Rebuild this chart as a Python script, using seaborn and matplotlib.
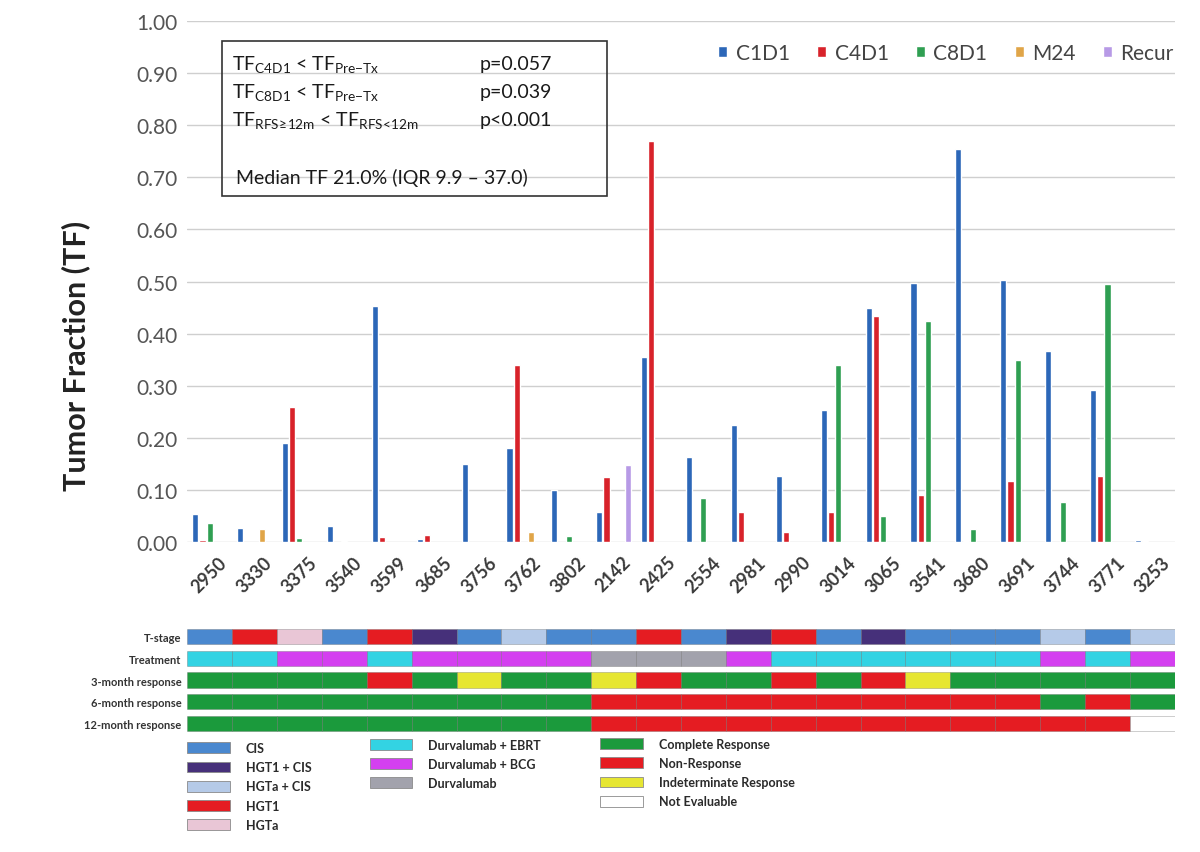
import numpy as np
import pandas as pd
import matplotlib
matplotlib.use("Agg")
import matplotlib.pyplot as plt
from matplotlib.patches import Patch, Rectangle
from matplotlib.ticker import FormatStrFormatter
import seaborn as sns

nan = np.nan

# --- data ---
PATIENTS = ["2950", "3330", "3375", "3540", "3599", "3685", "3756", "3762", "3802", "2142", "2425",
            "2554", "2981", "2990", "3014", "3065", "3541", "3680", "3691", "3744", "3771", "3253"]
C1D1 = [0.053, 0.026, 0.190, 0.030, 0.453, 0.005, 0.150, 0.180, 0.100, 0.057, 0.356,
        0.163, 0.225, 0.126, 0.253, 0.450, 0.498, 0.755, 0.503, 0.366, 0.292, 0.003]
C4D1 = [0.003, nan, 0.260, nan, 0.010, 0.014, nan, 0.340, nan, 0.125, 0.770,
        nan, 0.058, 0.020, 0.058, 0.434, 0.090, 0.002, 0.117, nan, 0.126, 0.002]
C8D1 = [0.036, nan, 0.008, 0.002, nan, nan, nan, nan, 0.012, nan, nan,
        0.084, nan, nan, 0.340, 0.049, 0.424, 0.025, 0.350, 0.076, 0.496, nan]
M24 = [nan, 0.025, nan, nan, nan, nan, nan, 0.020, nan, nan, nan,
       nan, nan, nan, nan, nan, nan, nan, nan, nan, nan, nan]
RECUR = [nan, nan, nan, nan, nan, nan, nan, nan, nan, 0.148, nan,
         nan, nan, nan, nan, nan, nan, nan, nan, nan, nan, nan]
SERIES = ["C1D1", "C4D1", "C8D1", "M24", "Recur"]
SERIES_COLORS = ["#2c67b8", "#d8222a", "#2f9f52", "#e0a548", "#b79ae6"]

ROW_NAMES = ["T-stage", "Treatment", "3-month response", "6-month response", "12-month response"]
T_STAGE = ["CIS", "HGT1", "HGTa", "CIS", "HGT1", "HGT1 + CIS", "CIS", "HGTa + CIS", "CIS", "CIS", "HGT1",
           "CIS", "HGT1 + CIS", "HGT1", "CIS", "HGT1 + CIS", "CIS", "CIS", "CIS", "HGTa + CIS", "CIS", "HGTa + CIS"]
TREATMENT = ["EBRT", "EBRT", "BCG", "BCG", "EBRT", "BCG", "BCG", "BCG", "BCG", "D", "D",
             "D", "BCG", "EBRT", "EBRT", "EBRT", "EBRT", "EBRT", "EBRT", "BCG", "EBRT", "BCG"]
RESP_3M = ["CR", "CR", "CR", "CR", "NR", "CR", "IR", "CR", "CR", "IR", "NR",
           "CR", "CR", "NR", "CR", "NR", "IR", "CR", "CR", "CR", "CR", "CR"]
RESP_6M = ["CR"] * 9 + ["NR"] * 10 + ["CR", "NR", "CR"]
RESP_12M = ["CR"] * 9 + ["NR"] * 12 + ["NE"]

STAGE_LABELS = ["CIS", "HGT1 + CIS", "HGTa + CIS", "HGT1", "HGTa"]
STAGE_COLORS = ["#4a88cf", "#46307a", "#b5cae8", "#e51c22", "#e9c6d6"]
TREAT_KEYS = ["EBRT", "BCG", "D"]
TREAT_LABELS = ["Durvalumab + EBRT", "Durvalumab + BCG", "Durvalumab"]
TREAT_COLORS = ["#33d3e3", "#d43ff0", "#a2a2ac"]
RESP_KEYS = ["CR", "NR", "IR", "NE"]
RESP_LABELS = ["Complete Response", "Non-Response", "Indeterminate Response", "Not Evaluable"]
RESP_COLORS = ["#1b9a3c", "#e51c22", "#e6e632", "#ffffff"]

sns.set_style("white")
plt.rcParams['font.family'] = ['Lato', 'DejaVu Sans']
plt.rcParams['mathtext.fontset'] = 'custom'
plt.rcParams['mathtext.rm'] = 'Lato'
plt.rcParams['mathtext.it'] = 'Lato:italic'
plt.rcParams['mathtext.bf'] = 'Lato:bold'

df = pd.DataFrame({
    "patient": PATIENTS * 5,
    "series": [s for s in SERIES for _ in PATIENTS],
    "tf": C1D1 + C4D1 + C8D1 + M24 + RECUR,
}).dropna()

fig = plt.figure(figsize=(12, 8.53), dpi=100)
ax = fig.add_axes([0.156, 0.3634, 0.823, 0.6108])

sns.barplot(data=df, x="patient", y="tf", hue="series", order=PATIENTS, hue_order=SERIES,
            palette=dict(zip(SERIES, SERIES_COLORS)), width=0.8, gap=0.15,
            errorbar=None, ax=ax, saturation=1)

ax.set_ylim(0, 1.0)
ax.set_xlim(-0.5, len(PATIENTS) - 0.5)
ax.set_yticks(np.arange(0, 1.01, 0.1))
ax.yaxis.set_major_formatter(FormatStrFormatter('%.2f'))
ax.grid(axis='y', color='#cfcfcf', lw=1)
ax.set_axisbelow(True)
sns.despine(ax=ax, left=True, bottom=True)
ax.tick_params(axis='y', labelsize=15, labelcolor='#555555', length=0, pad=7)
ax.tick_params(axis='x', length=0, pad=8)
for lab in ax.get_xticklabels():
    lab.set_rotation(45)
    lab.set_ha('center')
    lab.set_va('top')
    lab.set_fontsize(13)
    lab.set_fontweight('bold')
    lab.set_color('#3a3a3a')
ax.set_xlabel("")
ax.set_ylabel("Tumor Fraction (TF)", fontsize=22, fontweight='bold', color='#222222')
ax.yaxis.set_label_coords(-0.098, 0.36)

handles, labels = ax.get_legend_handles_labels()
ax.legend(handles, labels, loc='upper right', bbox_to_anchor=(0.999, 0.958), ncol=5,
          frameon=False, fontsize=15, handlelength=0.45, handleheight=0.45,
          columnspacing=1.3, handletextpad=0.4, labelcolor='#444444',
          borderpad=0, borderaxespad=0)

# stats box
fig.patches.append(Rectangle((0.185, 0.769), 0.321, 0.182, transform=fig.transFigure,
                             fill=False, ec='#333333', lw=1.2))
stats_left = [r"TF$_{\mathrm{C4D1}}$ < TF$_{\mathrm{Pre{-}Tx}}$",
              r"TF$_{\mathrm{C8D1}}$ < TF$_{\mathrm{Pre{-}Tx}}$",
              r"TF$_{\mathrm{RFS}\!\geq\!\mathrm{12m}}$ < TF$_{\mathrm{RFS}\!<\!\mathrm{12m}}$"]
stats_right = ["p=0.057", "p=0.039", "p<0.001"]
for yy, lt, rt in zip([0.924, 0.892, 0.859], stats_left, stats_right):
    fig.text(0.193, yy, lt, fontsize=14, color='#1a1a1a', va='center')
    fig.text(0.400, yy, rt, fontsize=14, color='#1a1a1a', va='center')
fig.text(0.197, 0.791, "Median TF 21.0% (IQR 9.9 \u2013 37.0)", fontsize=14, color='#1a1a1a', va='center')

# annotation strips
ax2 = fig.add_axes([0.156, 0.1383, 0.823, 0.1266])
stage_map = dict(zip(STAGE_LABELS, STAGE_COLORS))
treat_map = dict(zip(TREAT_KEYS, TREAT_COLORS))
resp_map = dict(zip(RESP_KEYS, RESP_COLORS))
rows = [[stage_map[v] for v in T_STAGE],
        [treat_map[v] for v in TREATMENT],
        [resp_map[v] for v in RESP_3M],
        [resp_map[v] for v in RESP_6M],
        [resp_map[v] for v in RESP_12M]]
xs = np.arange(len(PATIENTS))
for i, cols in enumerate(rows):
    ax2.bar(xs, 0.7, bottom=i - 0.35, width=1.0, color=cols,
            edgecolor=(0.35, 0.35, 0.35, 0.35), linewidth=0.6)
ax2.set_xlim(-0.5, len(PATIENTS) - 0.5)
ax2.set_ylim(len(ROW_NAMES) - 0.5, -0.5)
ax2.set_yticks(range(len(ROW_NAMES)))
ax2.set_yticklabels(ROW_NAMES, fontsize=8, fontweight='bold', color='#333333')
ax2.set_xticks([])
ax2.tick_params(axis='y', length=0, pad=4)
sns.despine(ax=ax2, left=True, bottom=True)
ax2.patch.set_alpha(0)

# annotation legends
def strip_legend(labels, colors, x, y):
    hs = [Patch(facecolor=c, edgecolor='#8a8a8a', lw=0.6) for c in colors]
    leg = fig.legend(hs, labels, loc='upper left', bbox_to_anchor=(x, y), frameon=False,
                     fontsize=9, handlelength=3.4, handleheight=0.95, labelspacing=0.58,
                     handletextpad=1.3, borderpad=0, borderaxespad=0, labelcolor='#2a2a2a')
    for t in leg.get_texts():
        t.set_fontweight('bold')

strip_legend(STAGE_LABELS, STAGE_COLORS, 0.156, 0.129)
strip_legend(TREAT_LABELS, TREAT_COLORS, 0.308, 0.133)
strip_legend(RESP_LABELS, RESP_COLORS, 0.500, 0.134)

fig.savefig("out.png", dpi=100, facecolor='white')
